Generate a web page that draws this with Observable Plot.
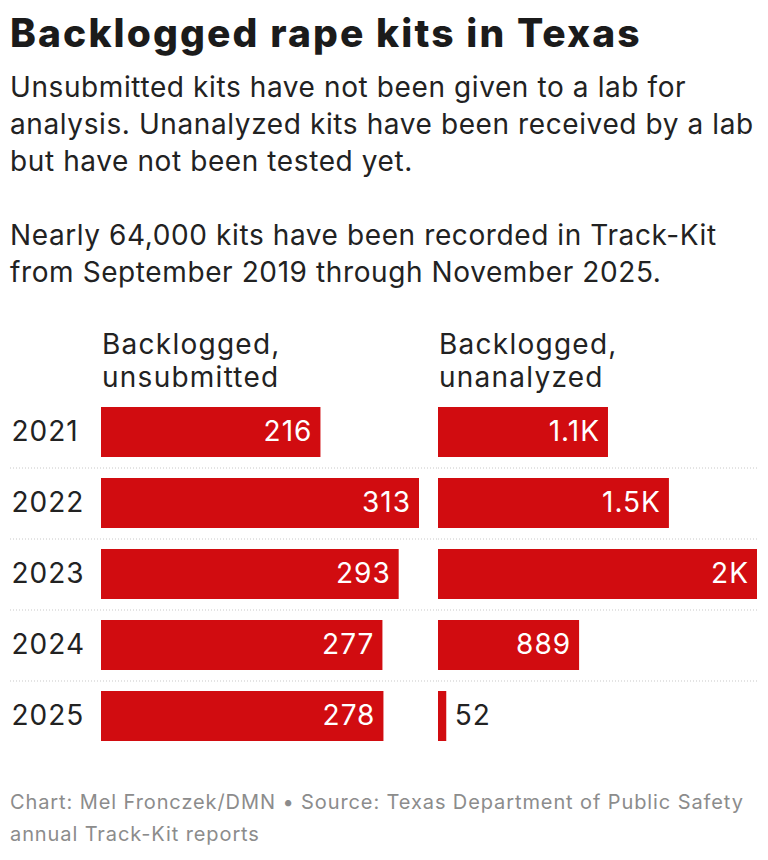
<!DOCTYPE html>
<html>
<head>
<meta charset="utf-8">
<script src="https://cdn.jsdelivr.net/npm/d3@7"></script>
<script src="https://cdn.jsdelivr.net/npm/@observablehq/plot@0.6"></script>
<style>
  body { margin: 0; background: #fff; font-family: Inter, "Noto Sans", sans-serif; color: #1d1d1d; }
  #wrap { width: 768px; position: relative; }
  h1 { margin: 0; padding: 10px 0 0 10px; font-size: 39px; line-height: 46px; font-weight: 800; letter-spacing: 2.1px; color: #1b1b1b; white-space: nowrap; }
  .sub { margin: 13.3px 0 0 10px; font-size: 28px; line-height: 37px; letter-spacing: 0.6px; color: #222; white-space: nowrap; }
  .heads { position: relative; height: 57.7px; margin-top: 37px; font-size: 28px; line-height: 33px; letter-spacing: 1.25px; color: #222; }
  .heads div { position: absolute; top: 0; white-space: nowrap; }
  .charts { display: flex; }
  .caption { margin: 23.7px 0 0 10px; font-size: 20px; line-height: 32px; letter-spacing: 0.9px; color: #8c8c8c; white-space: nowrap; }
</style>
</head>
<body>
<div id="wrap">
  <h1>Backlogged rape kits in Texas</h1>
  <div class="sub">Unsubmitted kits have not been given to a lab for<br>analysis. Unanalyzed kits have been received by a lab<br>but have not been tested yet.<br><br>Nearly 64,000 kits have been recorded in Track-Kit<br>from September 2019 through November 2025.</div>
  <div class="heads">
    <div style="left:102px">Backlogged,<br>unsubmitted</div>
    <div style="left:439px">Backlogged,<br>unanalyzed</div>
  </div>
  <div class="charts" id="charts"></div>
  <div class="caption">Chart: Mel Fronczek/DMN • Source: Texas Department of Public Safety<br>annual Track-Kit reports</div>
</div>
<script>
const years = ["2021", "2022", "2023", "2024", "2025"];
const unsubmitted = [216, 313, 293, 277, 278];
const unanalyzed = [1071, 1455, 2010, 889, 52];

const RED = "#d10c10";
const PAD = 0.2958;
const H = 376;
const FS = 28;

const fmtK = v => v >= 1000 ? (Math.round(v / 100) / 10).toString() + "K" : String(v);
const fmtN = v => String(v);

function makeChart(values, fmt, opts) {
  const data = years.map((y, i) => ({year: y, value: values[i]}));
  const max = d3.max(values);
  const inside = d => d.value / max > 0.15;
  const step = H / (years.length - PAD + 2 * PAD);
  const sepDy = -(step * (1 - PAD)) / 2 - step * PAD / 2;
  const marks = [
    Plot.ruleY(years.slice(1), {
      y: d => d, dy: sepDy, stroke: "#c8c8c8", strokeWidth: 1, strokeDasharray: "1 2",
      insetLeft: opts.ruleInsetLeft, insetRight: opts.ruleInsetRight
    }),
    Plot.barX(data, {y: "year", x: "value", fill: RED}),
    Plot.text(data.filter(inside), {
      y: "year", x: "value", text: d => fmt(d.value), textAnchor: "end", dx: -8.5,
      fill: "white", fontSize: FS
    }),
    Plot.text(data.filter(d => !inside(d)), {
      y: "year", x: "value", text: d => fmt(d.value), textAnchor: "start", dx: 8,
      fill: "#222", fontSize: FS
    })
  ];
  if (opts.yearLabels) {
    marks.push(Plot.text(data, {
      y: "year", frameAnchor: "left", text: "year", textAnchor: "start", dx: opts.yearDx,
      fill: "#222", fontSize: FS
    }));
  }
  return Plot.plot({
    width: opts.width,
    height: H,
    marginLeft: opts.marginLeft,
    marginRight: opts.marginRight,
    marginTop: 0,
    marginBottom: 0,
    x: {domain: [0, max], axis: null},
    y: {domain: years, padding: PAD, round: false, axis: null},
    style: {fontFamily: "Inter, 'Noto Sans', sans-serif", overflow: "visible", letterSpacing: "1px"},
    marks
  });
}

const left = makeChart(unsubmitted, fmtN, {
  width: 438, marginLeft: 101, marginRight: 19, yearLabels: true, yearDx: -90,
  ruleInsetLeft: -91, ruleInsetRight: -19
});
const right = makeChart(unanalyzed, fmtK, {
  width: 330, marginLeft: 0, marginRight: 11, yearLabels: false,
  ruleInsetLeft: 0, ruleInsetRight: 0
});
document.getElementById("charts").append(left, right);
</script>
</body>
</html>
